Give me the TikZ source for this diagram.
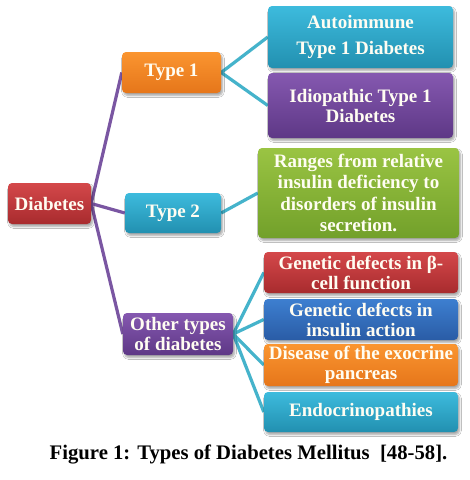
\documentclass[tikz,border=0pt]{standalone}
\usepackage{fontspec}
\setmainfont{Liberation Serif}
\usetikzlibrary{shadows.blur,backgrounds}
\definecolor{redT}{HTML}{D4484A}
\definecolor{redB}{HTML}{A82B2E}
\definecolor{orT}{HTML}{FA9530}
\definecolor{orB}{HTML}{E6761A}
\definecolor{cyT}{HTML}{3DBBDD}
\definecolor{cyB}{HTML}{2290B0}
\definecolor{puT}{HTML}{8558B0}
\definecolor{puB}{HTML}{5E3886}
\definecolor{grT}{HTML}{9AC443}
\definecolor{grB}{HTML}{72A02A}
\definecolor{blT}{HTML}{3D7FD0}
\definecolor{blB}{HTML}{2A5CA6}
\definecolor{purpleline}{HTML}{7A56A2}
\definecolor{tealline}{HTML}{45B3CB}
\definecolor{boxtext}{HTML}{FFFDF2}
\tikzset{
  box/.style={rounded corners=4pt, text=boxtext, align=center, inner sep=0pt,
    font=\fontsize{19}{20}\selectfont\bfseries,
    blur shadow={shadow blur steps=6, shadow xshift=1.5pt, shadow yshift=-2.5pt, shadow opacity=35}},
  redbox/.style={box, top color=redT, bottom color=redB},
  orbox/.style={box, top color=orT, bottom color=orB},
  cybox/.style={box, top color=cyT, bottom color=cyB},
  pubox/.style={box, top color=puT, bottom color=puB},
  grbox/.style={box, top color=grT, bottom color=grB},
  blbox/.style={box, top color=blT, bottom color=blB},
  pline/.style={draw=purpleline, line width=3.2pt},
  tline/.style={draw=tealline, line width=3.2pt}
}
\begin{document}
\begin{tikzpicture}[x=1pt,y=-1pt]
\useasboundingbox (0,0) rectangle (470,480);
\node[redbox, minimum width=83, minimum height=41] (dia) at (49.5,203.5) {Diabetes};
\node[orbox, minimum width=99, minimum height=41] (t1) at (171.5,72.5) {Type 1};
\node[cybox, minimum width=96, minimum height=40] (t2) at (173,213) {Type 2};
\node[pubox, minimum width=110, minimum height=42] (oth) at (178,334) {Other types\\of diabetes};
\node[cybox, minimum width=185, minimum height=62] (auto) at (360.5,37) {Autoimmune\\[6pt]Type 1 Diabetes};
\node[pubox, minimum width=185, minimum height=65] (idio) at (360.5,105.5) {Idiopathic Type 1\\Diabetes};
\node[grbox, minimum width=201, minimum height=90, font=\fontsize{19}{21.5}\selectfont\bfseries] (rng) at (358.5,193) {Ranges from relative\\insulin deficiency to\\disorders of insulin\\secretion.};
\node[redbox, minimum width=194, minimum height=41] (gb) at (361,272.5) {Genetic defects in β-\\cell function};
\node[blbox, minimum width=194, minimum height=41] (gi) at (361,319.5) {Genetic defects in\\insulin action};
\node[orbox, minimum width=194, minimum height=42] (dis) at (361,365) {Disease of the exocrine\\pancreas};
\node[cybox, minimum width=194, minimum height=40] (end) at (361,412) {Endocrinopathies};
\node[font=\fontsize{20.7}{22}\selectfont\bfseries, inner sep=0pt] (cap) at (248.5,454) {Figure 1: Types of Diabetes Mellitus\ \ [48-58].};
\begin{pgfonlayer}{background}
\fill[white] (0,0) rectangle (470,480);
\draw[pline] (dia.east) -- (t1.west);
\draw[pline] (dia.east) -- (t2.west);
\draw[pline] (dia.east) -- (oth.west);
\draw[tline] (t1.east) -- (auto.west);
\draw[tline] (t1.east) -- (idio.west);
\draw[tline] (t2.east) -- (rng.west);
\draw[tline] (oth.east) -- (gb.west);
\draw[tline] (oth.east) -- (gi.west);
\draw[tline] (oth.east) -- (dis.west);
\draw[tline] (oth.east) -- (end.west);
\end{pgfonlayer}
\end{tikzpicture}
\end{document}
